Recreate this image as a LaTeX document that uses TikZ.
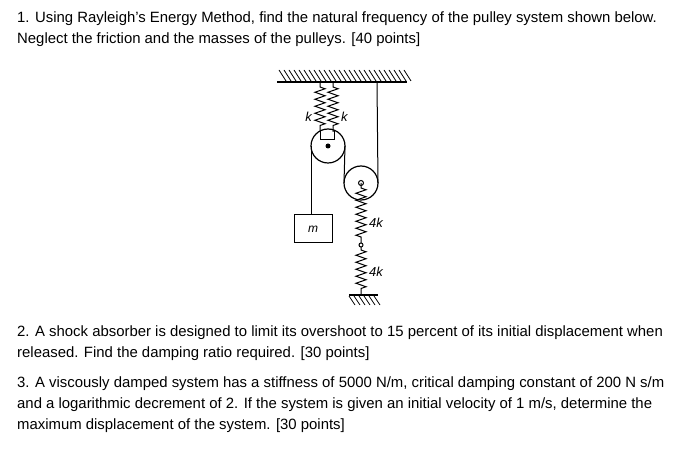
\documentclass[tikz,border=0pt]{standalone}
\usepackage{fontspec}
\setmainfont{Liberation Sans}
\usetikzlibrary{decorations.pathmorphing,patterns}
\begin{document}
\begin{tikzpicture}[x=1pt,y=-1pt,
  txt/.style={anchor=north west,inner sep=0pt,font=\fontsize{14.9}{21}\selectfont,align=left},
  spr/.style={decorate,decoration={zigzag,segment length=7,amplitude=5,pre length=5,post length=5},line width=1pt},
  rope/.style={line width=1pt},
  lab/.style={font=\fontsize{13}{14}\selectfont\itshape,inner sep=1pt}]
\useasboundingbox (0,0) rectangle (686,470);
\node[txt] (t1) at (17,12) {1. Using Rayleigh’s Energy Method, find the natural frequency of the pulley system shown below.\\Neglect the friction and the masses of the pulleys. [40 points]};
\node[txt] (t2) at (17,326) {2. A shock absorber is designed to limit its overshoot to 15 percent of its initial displacement when\\released. Find the damping ratio required. [30 points]};
\node[txt] (t3) at (17,377) {3. A viscously damped system has a stiffness of 5000 N/m, critical damping constant of 200 N s/m\\and a logarithmic decrement of 2. If the system is given an initial velocity of 1 m/s, determine the\\maximum displacement of the system. [30 points]};
% ceiling
\draw[line width=1.2pt] (277,82) -- (407,82);
\foreach \i in {0,...,25} \draw[line width=0.8pt] (279+\i*5,70) -- (279+\i*5+7,81);
% pulleys
\coordinate (c1) at (328,146);
\coordinate (c2) at (361,183);
\draw[line width=1.2pt] (c1) circle (17);
\draw[line width=1.2pt] (c2) circle (17);
\fill (c1) circle (2.5);
\draw[fill=white,line width=1pt] (c2) circle (2.5);
% springs k
\coordinate (k1a) at (320,82); \coordinate (k1b) at (320,132);
\coordinate (k2a) at (333,82); \coordinate (k2b) at (333,132);
\draw[spr] (k1a) -- (k1b);
\draw[spr] (k2a) -- (k2b);
\draw[line width=1pt] (320,131) -- (320,140) -- (334,140) -- (334,131);
\node[lab,anchor=east] at (313,117) {k};
\node[lab,anchor=west] at (340,117) {k};
% ropes
\draw[rope] (377,82) -- (378,183);
\draw[rope] (344,183) -- (345,146);
\draw[rope] (311,146) -- (311,215);
% mass
\node[draw,line width=1pt,minimum width=38,minimum height=28,inner sep=0pt,font=\fontsize{12}{12}\selectfont\itshape] (m) at (313,229) {m};
% lower springs
\coordinate (d) at (361,245);
\coordinate (g) at (361,295);
\draw[spr] (c2) -- (d);
\draw[spr] (d) -- (g);
\draw[fill=white,line width=1pt] (d) circle (2);
\node[lab,anchor=west] at (368,223) {4k};
\node[lab,anchor=west] at (368,272) {4k};
% ground
\draw[line width=1.2pt] (349,295) -- (378,295);
\foreach \i in {0,...,5} \draw[line width=0.8pt] (349+\i*5,296) -- (355+\i*5,305);
\end{tikzpicture}
\end{document}
